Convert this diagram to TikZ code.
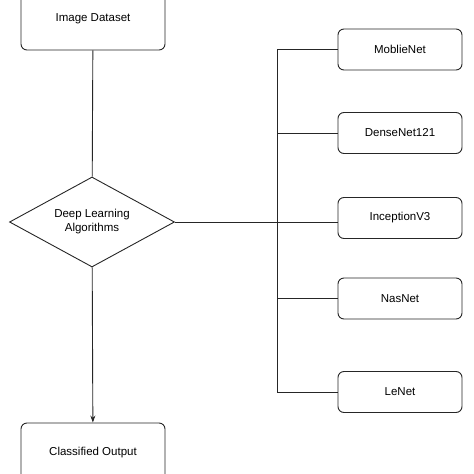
\documentclass[tikz,border=0pt]{standalone}
\usepackage{fontspec}
\setmainfont{Liberation Sans}
\usetikzlibrary{shapes.geometric,arrows.meta}
\begin{document}
\begin{tikzpicture}[x=1pt,y=-1pt,
  box/.style={draw=black!85,line width=0.9pt,rounded corners=6pt,minimum width=144pt,minimum height=62pt,inner sep=0pt,font=\fontsize{11.5}{13}\selectfont},
  mbox/.style={draw=black!85,line width=0.9pt,rounded corners=6pt,minimum width=124pt,minimum height=41pt,inner sep=0pt,font=\fontsize{11.5}{13}\selectfont},
  dia/.style={draw=black!85,line width=0.9pt,diamond,aspect=1.833,minimum width=165pt,minimum height=90pt,inner sep=0pt,align=center,font=\fontsize{11.5}{14}\selectfont},
  conn/.style={draw=black!85,line width=0.9pt}]
\useasboundingbox (0,0) rectangle (474,474);
\node[box] (ds) at (93,19) {Image Dataset};
\node[dia] (dla) at (92,222) {Deep Learning\\Algorithms};
\node[box,minimum height=60pt] (co) at (93,453) {Classified Output};
\node[mbox] (m1) at (400,49.5) {MoblieNet};
\node[mbox] (m2) at (400,133) {DenseNet121};
\node[mbox] (m3) at (400,218) {InceptionV3};
\node[mbox] (m4) at (400,298.5) {NasNet};
\node[mbox] (m5) at (400,392) {LeNet};
\coordinate (t1) at (277,49.5);
\coordinate (t2) at (277,133);
\coordinate (t4) at (277,298.5);
\coordinate (t5) at (277,392);
\draw[conn] (ds) -- (dla);
\draw[conn,-{Stealth[length=7pt,width=5pt]}] (dla) -- (co);
\draw[conn] (dla.east) -- (dla.east -| m3.west);
\draw[conn] (m1.west) -- (t1) -- (t5) -- (m5.west);
\draw[conn] (t2) -- (m2.west);
\draw[conn] (t4) -- (m4.west);
\end{tikzpicture}
\end{document}
